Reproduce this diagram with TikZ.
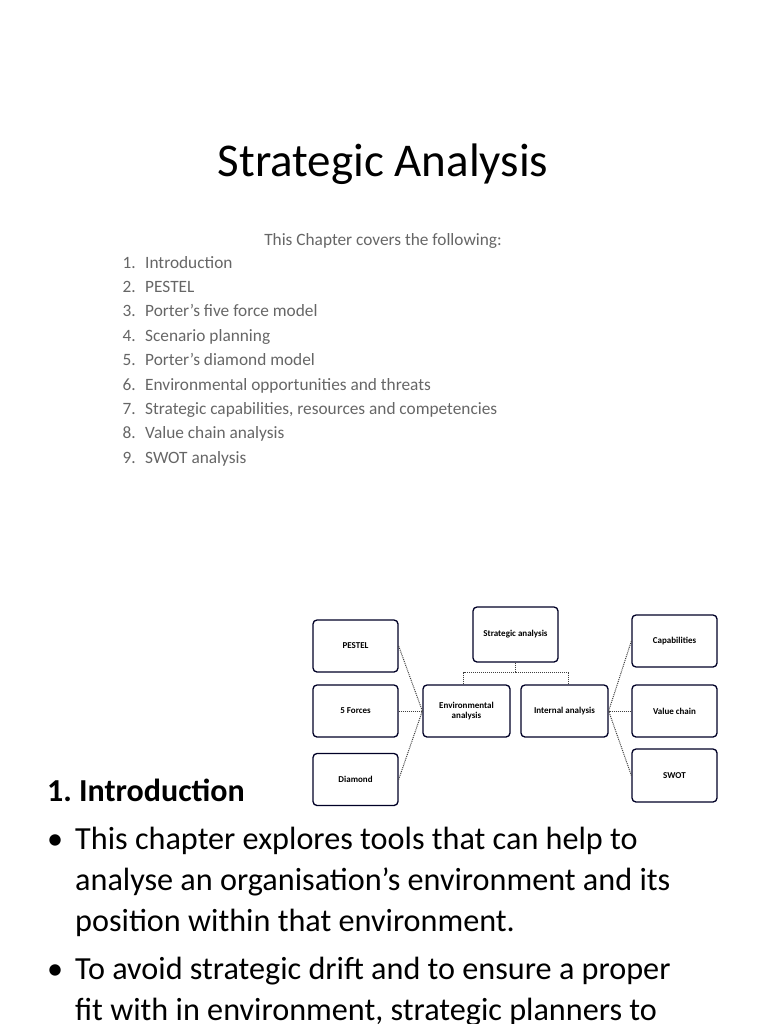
\documentclass[tikz,border=0pt]{standalone}
\usepackage{fontspec}
\setmainfont{Carlito}
\begin{document}
\begin{tikzpicture}[x=1pt,y=-1pt,
  box/.style={draw=black!85!blue,line width=1.3pt,rounded corners=4pt,fill=white,align=center,font=\fontsize{9}{10.5}\selectfont\bfseries,inner sep=0pt},
  dot/.style={densely dotted,line width=1pt,draw=black!75},
  item/.style={anchor=base west,inner sep=0pt,font=\fontsize{17.3}{20}\selectfont,text=black!60},
  body/.style={anchor=base west,inner sep=0pt,font=\fontsize{32.2}{41}\selectfont}]
\useasboundingbox (0,0) rectangle (768,1024);
\node[anchor=base,font=\fontsize{47}{50}\selectfont] (title) at (383,177) {Strategic Analysis};
\node[anchor=base,font=\fontsize{17.3}{20}\selectfont,text=black!60] (sub) at (383,245) {This Chapter covers the following:};
\foreach \n/\t [count=\i from 0] in {1/Introduction,2/PESTEL,3/Porter’s five force model,4/Scenario planning,5/Porter’s diamond model,6/Environmental opportunities and threats,7/{Strategic capabilities, resources and competencies},8/Value chain analysis,9/SWOT analysis}{
  \node[item,anchor=base east] (n\i) at (136,268+24.4*\i) {\n.};
  \node[item] (t\i) at (145,268+24.4*\i) {\t};
}
% diagram
\node[box,minimum width=85,minimum height=52] (pestel) at (355.5,646) {PESTEL};
\node[box,minimum width=85,minimum height=52] (five) at (355.5,711) {5 Forces};
\node[box,minimum width=85,minimum height=52] (dia) at (355.5,779.5) {Diamond};
\node[box,minimum width=85,minimum height=55] (sa) at (515.5,634.5) {Strategic analysis};
\node[box,minimum width=87,minimum height=52] (env) at (466.5,711) {Environmental\\analysis};
\node[box,minimum width=87,minimum height=52] (int) at (564.5,711) {Internal analysis};
\node[box,minimum width=85,minimum height=52] (cap) at (674.5,641) {Capabilities};
\node[box,minimum width=85,minimum height=52] (vc) at (674.5,711) {Value chain};
\node[box,minimum width=85,minimum height=53] (swot) at (674.5,775.5) {SWOT};
\coordinate (j) at (515.5,672);
\draw[dot] (sa.south) -- (j);
\draw[dot] (env.north) ++(-3,0) |- (j);
\draw[dot] (int.north) ++(4,0) |- (j);
\draw[dot] (pestel.east) -- (env.west);
\draw[dot] (five.east) -- (env.west);
\draw[dot] (dia.east) -- (env.west);
\draw[dot] (cap.west) -- (int.east);
\draw[dot] (vc.west) -- (int.east);
\draw[dot] (swot.west) -- (int.east);
% body text
\node[body,font=\fontsize{32}{41}\selectfont\bfseries] (intro) at (47,801) {1.~Introduction};
\node[body] (b1) at (47,849) {•};
\node[body] (l1) at (75,849) {This chapter explores tools that can help to};
\node[body] (l2) at (75,890) {analyse an organisation's environment and its};
\node[body] (l3) at (75,931) {position within that environment.};
\node[body] (b2) at (47,979) {•};
\node[body] (l4) at (75,979) {To avoid strategic drift and to ensure a proper};
\node[body] (l5) at (75,1020) {fit with in environment, strategic planners to};
\end{tikzpicture}
\end{document}
